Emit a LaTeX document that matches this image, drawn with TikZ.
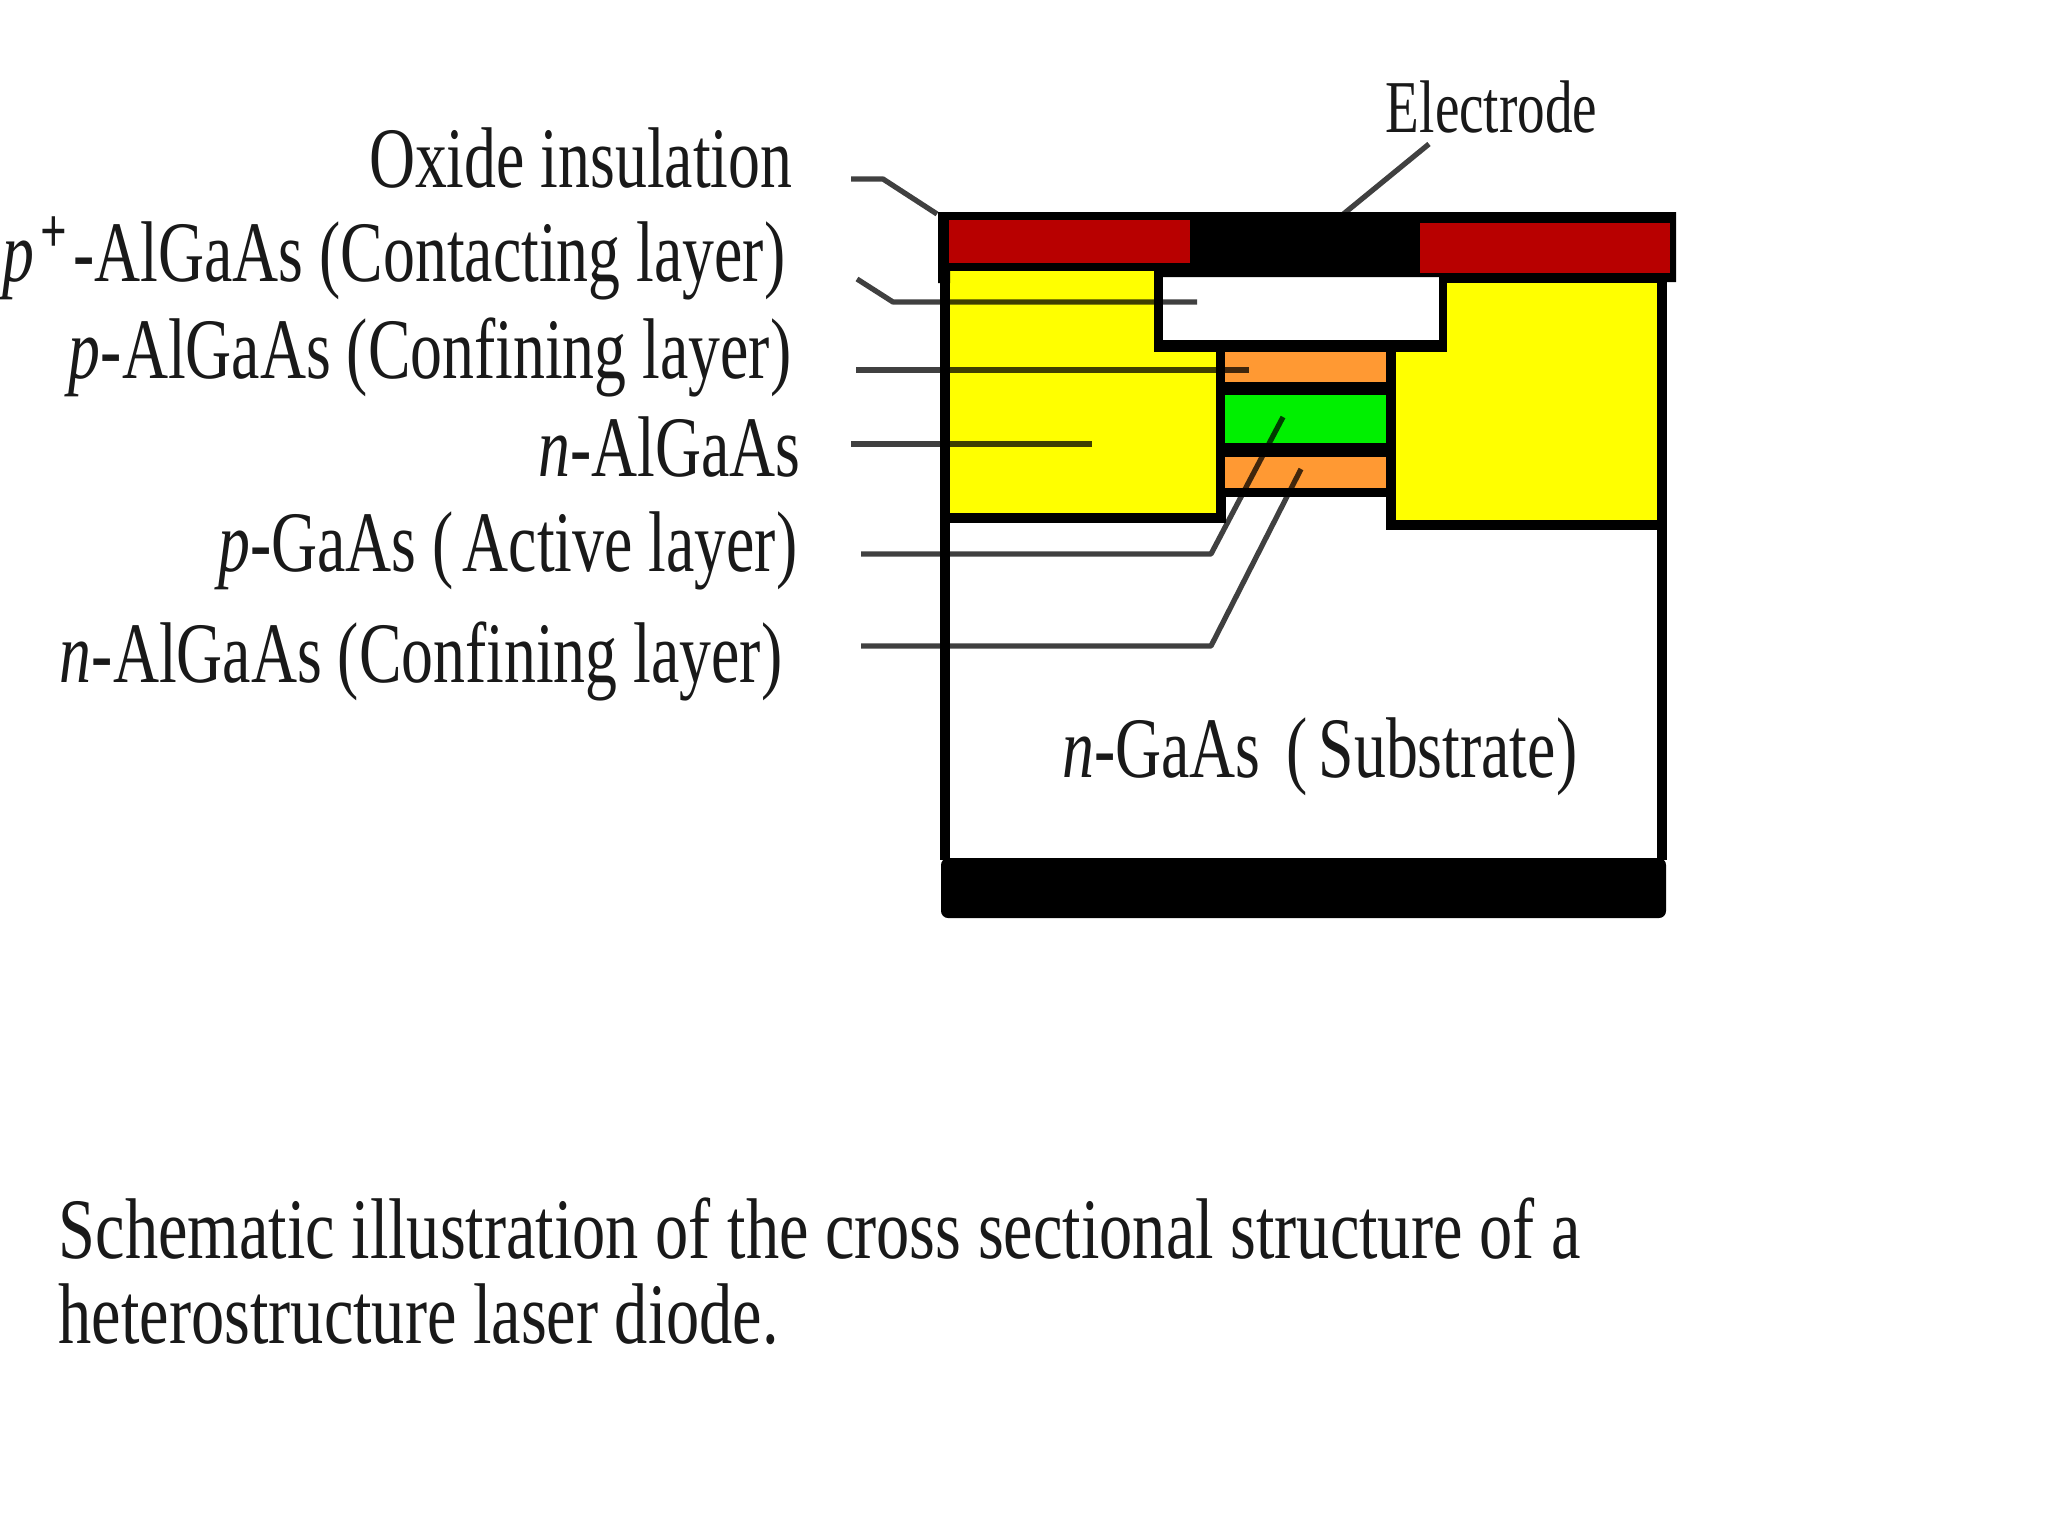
\documentclass[tikz,border=0pt]{standalone}
\usepackage{fontspec}
\setmainfont[FakeStretch=0.74]{Liberation Serif}
\newfontfamily\capfont[FakeStretch=0.77]{Liberation Serif}
\definecolor{oxred}{HTML}{B80000}
\definecolor{clyellow}{HTML}{FFFF00}
\definecolor{actgreen}{HTML}{00F000}
\definecolor{conorange}{HTML}{FF9933}
\tikzset{
    lbl/.style = {anchor = base east, inner sep = 0pt, text = black!90, font = \fontsize{24.5pt}{28pt}\selectfont},
    leader/.style = {draw = black, draw opacity = 0.75, line width = 1.5pt, line join = round}
}

\begin{document}
\begin{tikzpicture}[x = 0.01cm, y = -0.01cm]
        \useasboundingbox (0, 0) rectangle (2048, 1536);
        \fill[white] (0, 0) rectangle (2048, 1536);
        % substrate and back contact
        \draw[line width = 2.6pt] (945, 270) -- (945, 860) (1662, 270) -- (1662, 860);
        \fill[black, rounded corners = 2] (941, 858) rectangle (1666, 918);
        % confining blocks
        \filldraw[draw = black, fill = clyellow, line width = 2.6pt] (945, 266) -- (1159, 266) -- (1159, 347) -- (1221, 347) -- (1221, 518) -- (945, 518) -- cycle;
        \filldraw[draw = black, fill = clyellow, line width = 2.6pt] (1442, 278) -- (1442, 347) -- (1391, 347) -- (1391, 525) -- (1662, 525) -- (1662, 278) -- cycle;
        % active stack
        \fill[black] (1217, 347) rectangle (1396, 497);
        \fill[conorange] (1225, 352) rectangle (1386, 382);
        \fill[actgreen] (1225, 395) rectangle (1386, 443);
        \fill[conorange] (1225, 457) rectangle (1386, 488);
        % oxide window
        \fill[black] (1155, 270) rectangle (1445, 352);
        \fill[white] (1163, 277) rectangle (1439, 340);
        % top electrode
        \fill[black] (938, 212) -- (1676, 212) -- (1676, 282) -- (1439, 282) -- (1439, 277) -- (1155, 277) -- (1155, 270) -- (950, 270) -- (950, 283) -- (938, 283) -- cycle;
        \fill[oxred] (949, 220) rectangle (1190, 263);
        \fill[oxred] (1420, 223) rectangle (1670, 273);

        \node[lbl, font = \fontsize{21.2pt}{26pt}\selectfont] (electrode) at (1598, 132) {Electrode};
        \node[lbl] (oxide) at (793, 187) {Oxide insulation};
        \node[lbl] (contacting) at (786, 281) {\textit{p}\hspace{1.8pt}\raisebox{8pt}{\fontsize{18pt}{18pt}\selectfont\textbf{+}}\hspace{1.8pt}-AlGaAs (Contacting layer)};
        \node[lbl] (pconfining) at (792, 378) {\textit{p}-AlGaAs (Confining layer)};
        \node[lbl] (nalgaas) at (801, 476) {\textit{n}-AlGaAs};
        \node[lbl] (active) at (798, 571) {\textit{p}-GaAs (\hspace{2.6pt}Active layer)};
        \node[lbl] (nconfining) at (783, 682) {\textit{n}-AlGaAs (Confining layer)};
        \node[lbl] (substrate) at (1578, 777) {\textit{n}-GaAs\hspace{3pt} (\hspace{3pt}Substrate)};
        \node[lbl, anchor = north west, align = left, font = \capfont\fontsize{24.5pt}{24.2pt}\selectfont] (caption) at (58, 1197) {Schematic illustration of the cross sectional structure of a\\heterostructure laser diode.};

        % leader ends
        \coordinate (oxideA) at (851, 179);
        \coordinate (oxideB) at (883, 179);
        \coordinate (oxideC) at (937, 214);
        \coordinate (contactA) at (857, 279);
        \coordinate (contactB) at (893, 302);
        \coordinate (contactC) at (1197, 302);
        \coordinate (pconfA) at (856, 370);
        \coordinate (pconfB) at (1249, 370);
        \coordinate (nalA) at (851, 444);
        \coordinate (nalB) at (1092, 444);
        \coordinate (activeA) at (861, 554);
        \coordinate (activeB) at (1211, 554);
        \coordinate (activeC) at (1283, 417);
        \coordinate (nconfA) at (861, 646);
        \coordinate (nconfB) at (1211, 646);
        \coordinate (nconfC) at (1301, 469);
        \coordinate (electrodeA) at (1429, 144);
        \coordinate (electrodeB) at (1341, 216);

        \draw[leader] (oxideA) -- (oxideB) -- (oxideC);
        \draw[leader] (contactA) -- (contactB) -- (contactC);
        \draw[leader] (pconfA) -- (pconfB);
        \draw[leader] (nalA) -- (nalB);
        \draw[leader] (activeA) -- (activeB) -- (activeC);
        \draw[leader] (nconfA) -- (nconfB) -- (nconfC);
        \draw[leader] (electrodeA) -- (electrodeB);
    \end{tikzpicture}
\end{document}
